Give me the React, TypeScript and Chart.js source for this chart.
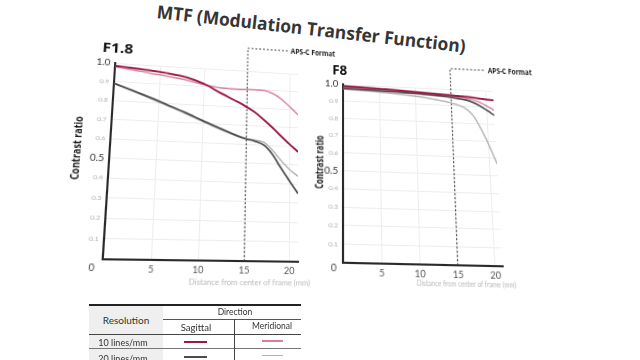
import React, { useEffect, useLayoutEffect, useRef } from "react";
import { Chart, registerables } from "chart.js";

Chart.register(...registerables);

// ---------- data ----------
const pageTitle = "MTF (Modulation Transfer Function)";
const distances = [0, 2, 4, 6, 8, 10, 12, 14, 15, 16, 17, 18, 19, 20, 21];
const xTickValues = [0, 5, 10, 15, 20];
const apsCLimit = 15;
const xAxisTitle = "Distance from center of frame (mm)";
const yAxisTitle = "Contrast ratio";
const apsCLabel = "APS-C Format";

// F1.8
const f18Sag10 = [0.985, 0.978, 0.97, 0.96, 0.945, 0.915, 0.868, 0.825, 0.8, 0.772, 0.735, 0.695, 0.652, 0.61, 0.57];
const f18Mer10 = [0.98, 0.968, 0.955, 0.944, 0.93, 0.91, 0.898, 0.895, 0.896, 0.898, 0.896, 0.882, 0.855, 0.815, 0.772];
const f18Sag20 = [0.89, 0.858, 0.825, 0.79, 0.755, 0.715, 0.678, 0.642, 0.628, 0.618, 0.6, 0.553, 0.482, 0.415, 0.35];
const f18Mer20 = [0.89, 0.856, 0.821, 0.785, 0.749, 0.71, 0.673, 0.639, 0.628, 0.624, 0.615, 0.575, 0.522, 0.475, 0.44];
// F8
const f8Sag10 = [0.99, 0.988, 0.985, 0.981, 0.977, 0.973, 0.969, 0.965, 0.963, 0.961, 0.958, 0.955, 0.951, 0.947, 0.943];
const f8Mer10 = [0.985, 0.982, 0.979, 0.976, 0.973, 0.97, 0.966, 0.961, 0.958, 0.954, 0.949, 0.94, 0.928, 0.908, 0.884];
const f8Sag20 = [0.976, 0.974, 0.972, 0.97, 0.967, 0.964, 0.96, 0.954, 0.95, 0.945, 0.938, 0.926, 0.907, 0.881, 0.853];
const f8Mer20 = [0.972, 0.969, 0.965, 0.961, 0.955, 0.948, 0.938, 0.925, 0.916, 0.905, 0.887, 0.847, 0.772, 0.678, 0.57];

const resolutions = ["10 lines/mm", "20 lines/mm"];
const directions = ["Sagittal", "Meridional"];

// series style (drawing order: first on top)
const seriesStyle = [
  { name: "10 lines/mm Sagittal", color: "#9b1746", width: 2 },
  { name: "20 lines/mm Sagittal", color: "#4d4d4d", width: 1.8 },
  { name: "10 lines/mm Meridional", color: "#d57e9e", width: 1.5 },
  { name: "20 lines/mm Meridional", color: "#b4b4b4", width: 1.5 },
];

// ---------- helpers ----------
type Pt = [number, number];

function solveHomography(src: Pt[], dst: Pt[]): number[] {
  const A: number[][] = [];
  const b: number[] = [];
  for (let i = 0; i < 4; i++) {
    const [x, y] = src[i];
    const [u, v] = dst[i];
    A.push([x, y, 1, 0, 0, 0, -u * x, -u * y]);
    b.push(u);
    A.push([0, 0, 0, x, y, 1, -v * x, -v * y]);
    b.push(v);
  }
  const n = 8;
  for (let c = 0; c < n; c++) {
    let p = c;
    for (let r = c + 1; r < n; r++) if (Math.abs(A[r][c]) > Math.abs(A[p][c])) p = r;
    [A[c], A[p]] = [A[p], A[c]];
    [b[c], b[p]] = [b[p], b[c]];
    for (let r = 0; r < n; r++) {
      if (r === c) continue;
      const f = A[r][c] / A[c][c];
      for (let k = c; k < n; k++) A[r][k] -= f * A[c][k];
      b[r] -= f * b[c];
    }
  }
  return b.map((v, i) => v / A[i][i]);
}

function fitText(ctx: CanvasRenderingContext2D, text: string, x: number, y: number, w: number, font: string, align: CanvasTextAlign, color: string, rot = 0) {
  ctx.save();
  ctx.font = font;
  const m = ctx.measureText(text).width || 1;
  ctx.translate(x, y);
  if (rot) ctx.rotate(rot);
  ctx.scale(w / m, 1);
  ctx.textAlign = align;
  ctx.textBaseline = "middle";
  ctx.fillStyle = color;
  ctx.fillText(text, 0, 0);
  ctx.restore();
}

interface Look {
  canvasW: number;
  canvasH: number;
  padding: { top: number; left: number; right: number; bottom: number };
  quad: Pt[]; // TL, TR, BL, BR of plot area on the page
  titleDx: number; titleDy: number; titleW: number; titleSize: number;
  apsRise: number; apsRun: number; apsTextW: number;
  yTitleDx: number; yTitleDy: number; yTitleLen: number;
  xTitleDx: number; xTitleDy: number; xTitleW: number;
  zeroDx: number; zeroDy: number;
}

const leftLook: Look = {
  canvasW: 312, canvasH: 290,
  padding: { top: 48, left: 38, right: 66, bottom: 30 },
  quad: [[115.5, 63], [298, 74], [103, 259.5], [298, 262]],
  titleDx: -13.5, titleDy: -15, titleW: 30, titleSize: 15,
  apsRise: 25, apsRun: 42, apsTextW: 48,
  yTitleDx: -30, yTitleDy: -9, yTitleLen: 63,
  xTitleDx: 12, xTitleDy: 20, xTitleW: 117,
  zeroDx: -10, zeroDy: 8,
};

const rightLook: Look = {
  canvasW: 278, canvasH: 272,
  padding: { top: 48, left: 38, right: 65, bottom: 30 },
  quad: [[343.3, 84.3], [493, 91], [343.3, 263], [502.7, 266.5]],
  titleDx: -11, titleDy: -14, titleW: 15, titleSize: 14,
  apsRise: 22, apsRun: 36, apsTextW: 46,
  yTitleDx: -22, yTitleDy: -8, yTitleLen: 53,
  xTitleDx: 12, xTitleDy: 17, xTitleW: 95,
  zeroDx: -9, zeroDy: 5,
};

function isBig(v: number) {
  return Math.abs(v - 0.5) < 1e-6 || Math.abs(v - 1) < 1e-6;
}

function MtfChart({ title, values, look }: { title: string; values: number[][]; look: Look }) {
  const ref = useRef<HTMLCanvasElement>(null);
  useEffect(() => {
    const canvas = ref.current!;
    const deco = {
      id: "mtfDeco",
      beforeDatasetsDraw(chart: any) {
        const { ctx, chartArea: a, scales } = chart;
        const px = scales.x.getPixelForValue(apsCLimit);
        ctx.save();
        ctx.strokeStyle = "#333";
        ctx.lineWidth = 1;
        ctx.setLineDash([2, 2]);
        ctx.beginPath();
        ctx.moveTo(px, a.bottom);
        ctx.lineTo(px, a.top - look.apsRise);
        ctx.lineTo(px + look.apsRun, a.top - look.apsRise);
        ctx.stroke();
        ctx.restore();
      },
      afterDraw(chart: any) {
        const { ctx, chartArea: a, scales } = chart;
        const px = scales.x.getPixelForValue(apsCLimit);
        fitText(ctx, title, a.left + look.titleDx, a.top + look.titleDy, look.titleW, `bold ${look.titleSize}px "Open Sans"`, "left", "#111");
        fitText(ctx, apsCLabel, px + look.apsRun + 3, a.top - look.apsRise + 1, look.apsTextW, 'bold 8px "Open Sans"', "left", "#1e1e1e");
        fitText(ctx, xAxisTitle, a.right + look.xTitleDx, a.bottom + look.xTitleDy, look.xTitleW, '8px Lato', "right", "#b8b8b8");
        fitText(ctx, yAxisTitle, a.left + look.yTitleDx, (a.top + a.bottom) / 2 + look.yTitleDy, look.yTitleLen, 'bold 10px "Open Sans"', "center", "#1a1a1a", -Math.PI / 2);
        ctx.save();
        ctx.font = "9px Lato";
        ctx.fillStyle = "#444";
        ctx.textAlign = "center";
        ctx.textBaseline = "middle";
        ctx.fillText("0", a.left + look.zeroDx, a.bottom + look.zeroDy);
        ctx.restore();
      },
    };
    const chart = new Chart(canvas, {
      type: "line",
      data: {
        datasets: values.map((vals, i) => ({
          label: seriesStyle[i].name,
          data: distances.map((d, j) => ({ x: d, y: vals[j] })),
          borderColor: seriesStyle[i].color,
          backgroundColor: seriesStyle[i].color,
          borderWidth: seriesStyle[i].width,
          pointRadius: 0,
          cubicInterpolationMode: "monotone" as const,
          fill: false,
        })),
      },
      options: {
        animation: false,
        responsive: false,
        devicePixelRatio: 1,
        layout: { padding: look.padding },
        plugins: { legend: { display: false }, tooltip: { enabled: false }, title: { display: false } },
        scales: {
          x: {
            type: "linear",
            min: 0,
            max: 21,
            afterBuildTicks: (axis: any) => {
              axis.ticks = xTickValues.map((v) => ({ value: v }));
            },
            ticks: {
              callback: (v: any) => (Number(v) === 0 ? "" : String(v)),
              font: { family: "Lato", size: 9 },
              color: "#555",
              padding: 3,
              maxRotation: 0,
              autoSkip: false,
            },
            grid: { color: "#ededed", drawTicks: false },
            border: { display: true, color: "#2a2a2a", width: 2 },
          },
          y: {
            min: 0,
            max: 1,
            ticks: {
              stepSize: 0.1,
              callback: (v: any) => (Number(v) < 0.05 ? "" : Number(v).toFixed(1)),
              font: (c: any) => ({ family: "Lato", size: isBig(c.tick ? c.tick.value : 0) ? 9.5 : 6.5 }),
              color: (c: any) => (isBig(c.tick ? c.tick.value : 0) ? "#333" : "#b0b0b0"),
              padding: 5,
            },
            grid: { color: "#ededed", drawTicks: false },
            border: { display: true, color: "#2a2a2a", width: 2 },
          },
        },
      },
      plugins: [deco],
    } as any);
    const a = chart.chartArea;
    const h = solveHomography(
      [[a.left, a.top], [a.right, a.top], [a.left, a.bottom], [a.right, a.bottom]],
      look.quad
    );
    canvas.style.transformOrigin = "0 0";
    canvas.style.transform = `matrix3d(${h[0]},${h[3]},0,${h[6]},${h[1]},${h[4]},0,${h[7]},0,0,1,0,${h[2]},${h[5]},0,1)`;
    return () => chart.destroy();
  }, []);
  return (
    <canvas
      ref={ref}
      width={look.canvasW}
      height={look.canvasH}
      style={{ position: "absolute", left: 0, top: 0 }}
    />
  );
}

function PageTitle() {
  const ref = useRef<HTMLDivElement>(null);
  useLayoutEffect(() => {
    const el = ref.current!;
    const w = el.offsetWidth || 1;
    el.style.transform = `rotate(6.4deg) scaleX(${311 / w})`;
  }, []);
  return (
    <div
      ref={ref}
      style={{
        position: "absolute",
        left: 157,
        top: 0,
        font: 'bold 18px "Open Sans"',
        lineHeight: "22px",
        color: "#353535",
        whiteSpace: "nowrap",
        transformOrigin: "0 50%",
      }}
    >
      {pageTitle}
    </div>
  );
}

const cellText: React.CSSProperties = {
  position: "absolute",
  transform: "translate(-50%, -50%)",
  font: "9px Lato",
  color: "#333",
  whiteSpace: "nowrap",
};

function Box({ l, t, w, h, bg }: { l: number; t: number; w: number; h: number; bg: string }) {
  return <div style={{ position: "absolute", left: l, top: t, width: w, height: h, background: bg }} />;
}

function LegendTable() {
  return (
    <>
      <Box l={89} t={306} w={74} h={28} bg="#efefef" />
      <Box l={89} t={335} w={74} h={13} bg="#efefef" />
      <Box l={89} t={349} w={74} h={11} bg="#efefef" />
      <Box l={89} t={304} w={212} h={2} bg="#222" />
      <Box l={163} t={319} w={138} h={1} bg="#555" />
      <Box l={89} t={334} w={212} h={1} bg="#444" />
      <Box l={89} t={348} w={212} h={1} bg="#777" />
      <Box l={234} t={319} w={1} h={41} bg="#444" />
      <div style={{ ...cellText, left: 126, top: 320, fontSize: 10 }}>Resolution</div>
      <div style={{ ...cellText, left: 235, top: 312, fontSize: 8.5 }}>Direction</div>
      <div style={{ ...cellText, left: 196, top: 327, fontSize: 9.5 }}>{directions[0]}</div>
      <div style={{ ...cellText, left: 272, top: 326, fontSize: 8.5 }}>{directions[1]}</div>
      <div style={{ ...cellText, left: 123, top: 342, fontSize: 9 }}>{resolutions[0]}</div>
      <div style={{ ...cellText, left: 123, top: 358, fontSize: 9 }}>{resolutions[1]}</div>
      <Box l={184} t={341} w={23} h={2} bg={seriesStyle[0].color} />
      <Box l={262} t={340} w={21} h={1.5} bg={seriesStyle[2].color} />
      <Box l={184} t={356} w={23} h={2} bg={seriesStyle[1].color} />
      <Box l={262} t={354.5} w={21} h={1.5} bg={seriesStyle[3].color} />
    </>
  );
}

export default function App() {
  return (
    <div
      style={{
        position: "fixed",
        left: 0,
        top: 0,
        width: 640,
        height: 360,
        overflow: "hidden",
        background: "#fff",
      }}
    >
      <PageTitle />
      <MtfChart title="F1.8" values={[f18Sag10, f18Sag20, f18Mer10, f18Mer20]} look={leftLook} />
      <MtfChart title="F8" values={[f8Sag10, f8Sag20, f8Mer10, f8Mer20]} look={rightLook} />
      <LegendTable />
    </div>
  );
}
